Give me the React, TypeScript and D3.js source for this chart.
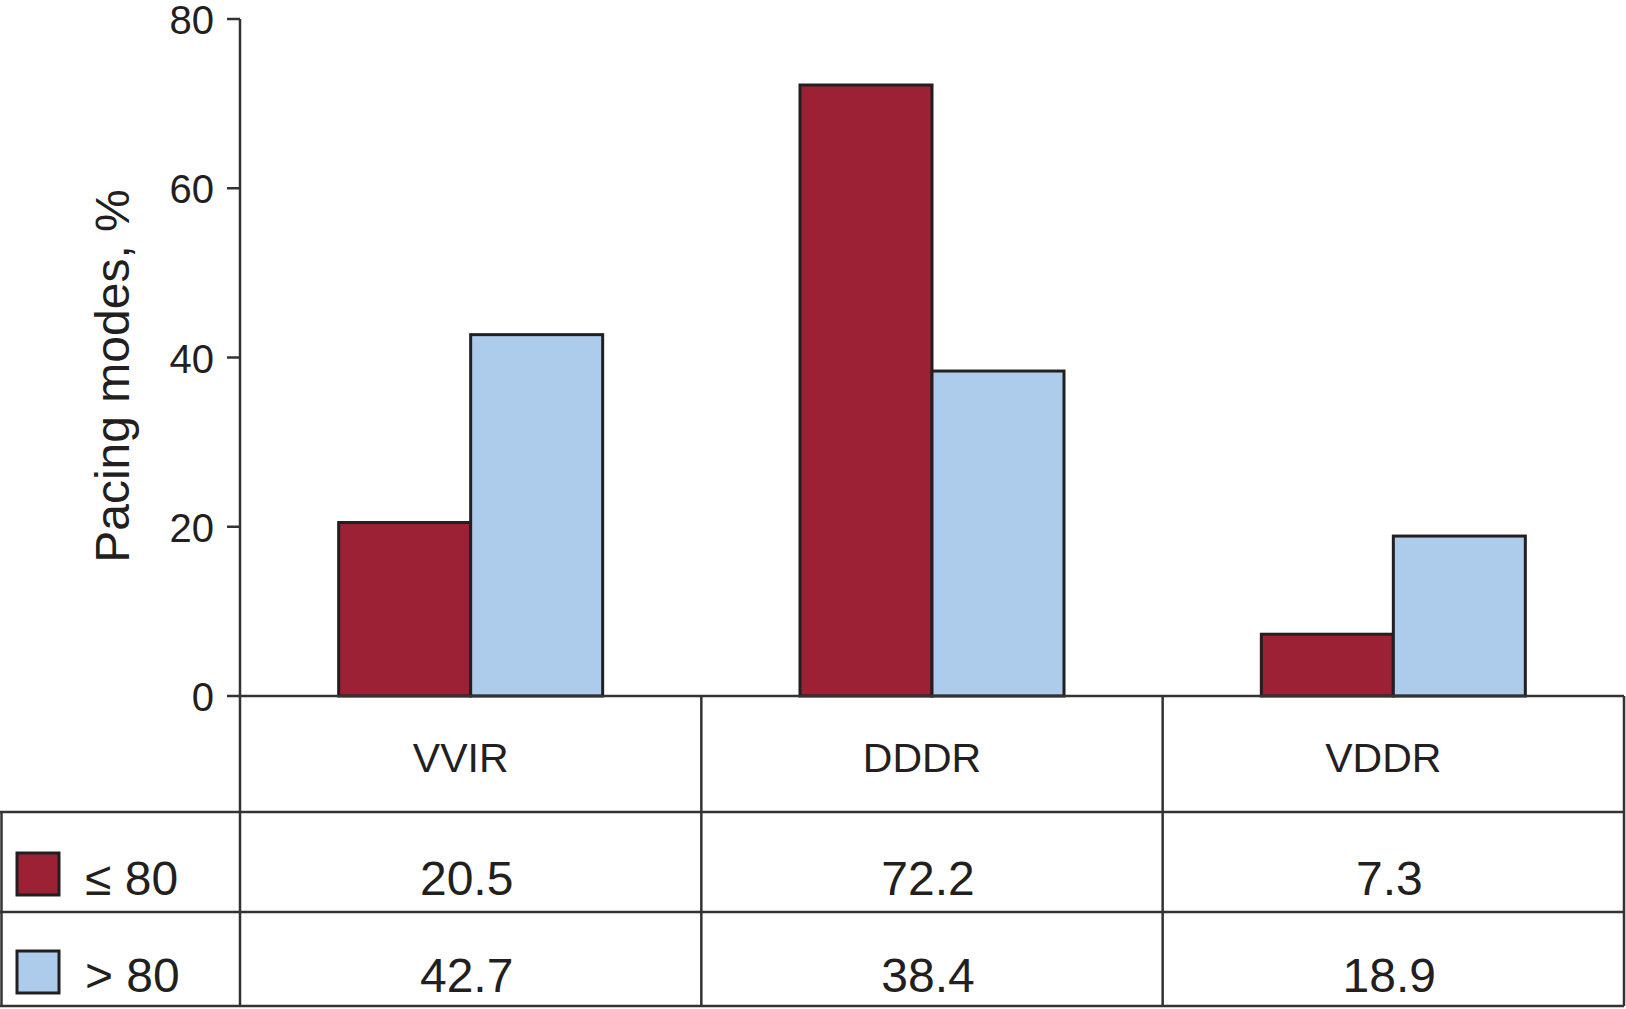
import React, { useEffect, useRef } from 'react';
import * as d3 from 'd3';

const categories = ['VVIR', 'DDDR', 'VDDR'];
const seriesNames = ['\u2264 80', '> 80'];
const lowAge = [20.5, 72.2, 7.3];
const highAge = [42.7, 38.4, 18.9];
const yTicks = [0, 20, 40, 60, 80];
const yLabel = 'Pacing modes, %';

const W = 1626;
const H = 1009;
const colors = ['#9c2134', '#adcbeb'];
const ink = '#231f20';
const font = '"Liberation Sans", Arial, Helvetica, sans-serif';

const App: React.FC = () => {
  const svgRef = useRef<SVGSVGElement>(null);

  useEffect(() => {
    if (!svgRef.current) return;
    const svg = d3.select(svgRef.current);
    svg.selectAll('*').remove();

    const left = 240;
    const right = 1624;
    const top = 19;
    const base = 696;
    const row1 = 812;
    const row2 = 912;
    const bottom = 1006;
    const barW = 132;

    const y = d3.scaleLinear().domain([0, 80]).range([base, top]);
    const x = d3.scaleBand<string>().domain(categories).range([left, right]).padding(0);
    const xs = d3.scaleBand<number>().domain([0, 1]).range([0, barW * 2]).padding(0);
    const series = [lowAge, highAge];
    const mid = (c: string) => (x(c) as number) + x.bandwidth() / 2;

    // bars
    const g = svg.append('g');
    categories.forEach((c, i) => {
      const x0 = mid(c) - barW;
      series.forEach((vals, s) => {
        g.append('rect')
          .attr('x', x0 + (xs(s) as number))
          .attr('y', y(vals[i]))
          .attr('width', xs.bandwidth())
          .attr('height', base - y(vals[i]))
          .attr('fill', colors[s])
          .attr('stroke', ink)
          .attr('stroke-width', 3);
      });
    });

    // y axis
    const lines = svg.append('g').attr('stroke', '#333').attr('stroke-width', 2.5).attr('fill', 'none');
    lines.append('line').attr('x1', left).attr('x2', left).attr('y1', top).attr('y2', bottom);
    yTicks.forEach(t => {
      lines.append('line').attr('x1', left - 13).attr('x2', left).attr('y1', y(t)).attr('y2', y(t));
      svg.append('text')
        .attr('x', 214)
        .attr('y', y(t) + 15)
        .attr('text-anchor', 'end')
        .attr('font-family', font)
        .attr('font-size', 40)
        .attr('fill', ink)
        .text(t);
    });

    svg.append('text')
      .attr('transform', `translate(129, 376) rotate(-90)`)
      .attr('text-anchor', 'middle')
      .attr('font-family', font)
      .attr('font-size', 48)
      .attr('fill', ink)
      .text(yLabel);

    // table grid
    lines.append('line').attr('x1', left).attr('x2', right).attr('y1', base).attr('y2', base);
    [row1, row2, bottom].forEach(ry => {
      lines.append('line').attr('x1', 0).attr('x2', right).attr('y1', ry).attr('y2', ry);
    });
    categories.forEach(c => {
      const xr = (x(c) as number) + x.bandwidth();
      lines.append('line').attr('x1', xr).attr('x2', xr).attr('y1', base).attr('y2', bottom);
    });
    lines.append('line').attr('x1', 1.5).attr('x2', 1.5).attr('y1', row1).attr('y2', bottom);

    // category labels
    categories.forEach(c => {
      svg.append('text')
        .attr('x', mid(c) - 10)
        .attr('y', 772)
        .attr('text-anchor', 'middle')
        .attr('font-family', font)
        .attr('font-size', 41)
        .attr('fill', ink)
        .text(c);
    });

    // value rows + legend
    const baselines = [895, 992];
    const boxTops = [853, 951];
    series.forEach((vals, s) => {
      svg.append('rect')
        .attr('x', 17)
        .attr('y', boxTops[s])
        .attr('width', 42)
        .attr('height', 42)
        .attr('fill', colors[s])
        .attr('stroke', ink)
        .attr('stroke-width', 3);
      svg.append('text')
        .attr('x', 85)
        .attr('y', baselines[s])
        .attr('font-family', font)
        .attr('font-size', 48)
        .attr('fill', ink)
        .text(seriesNames[s]);
      categories.forEach((c, i) => {
        svg.append('text')
          .attr('x', mid(c) - 4)
          .attr('y', baselines[s])
          .attr('text-anchor', 'middle')
          .attr('font-family', font)
          .attr('font-size', 48)
          .attr('fill', ink)
          .text(vals[i].toFixed(1));
      });
    });
  }, []);

  return (
    <svg
      ref={svgRef}
      width={W}
      height={H}
      style={{ position: 'absolute', left: 0, top: 0, background: '#fff', display: 'block' }}
    />
  );
};

export default App;
